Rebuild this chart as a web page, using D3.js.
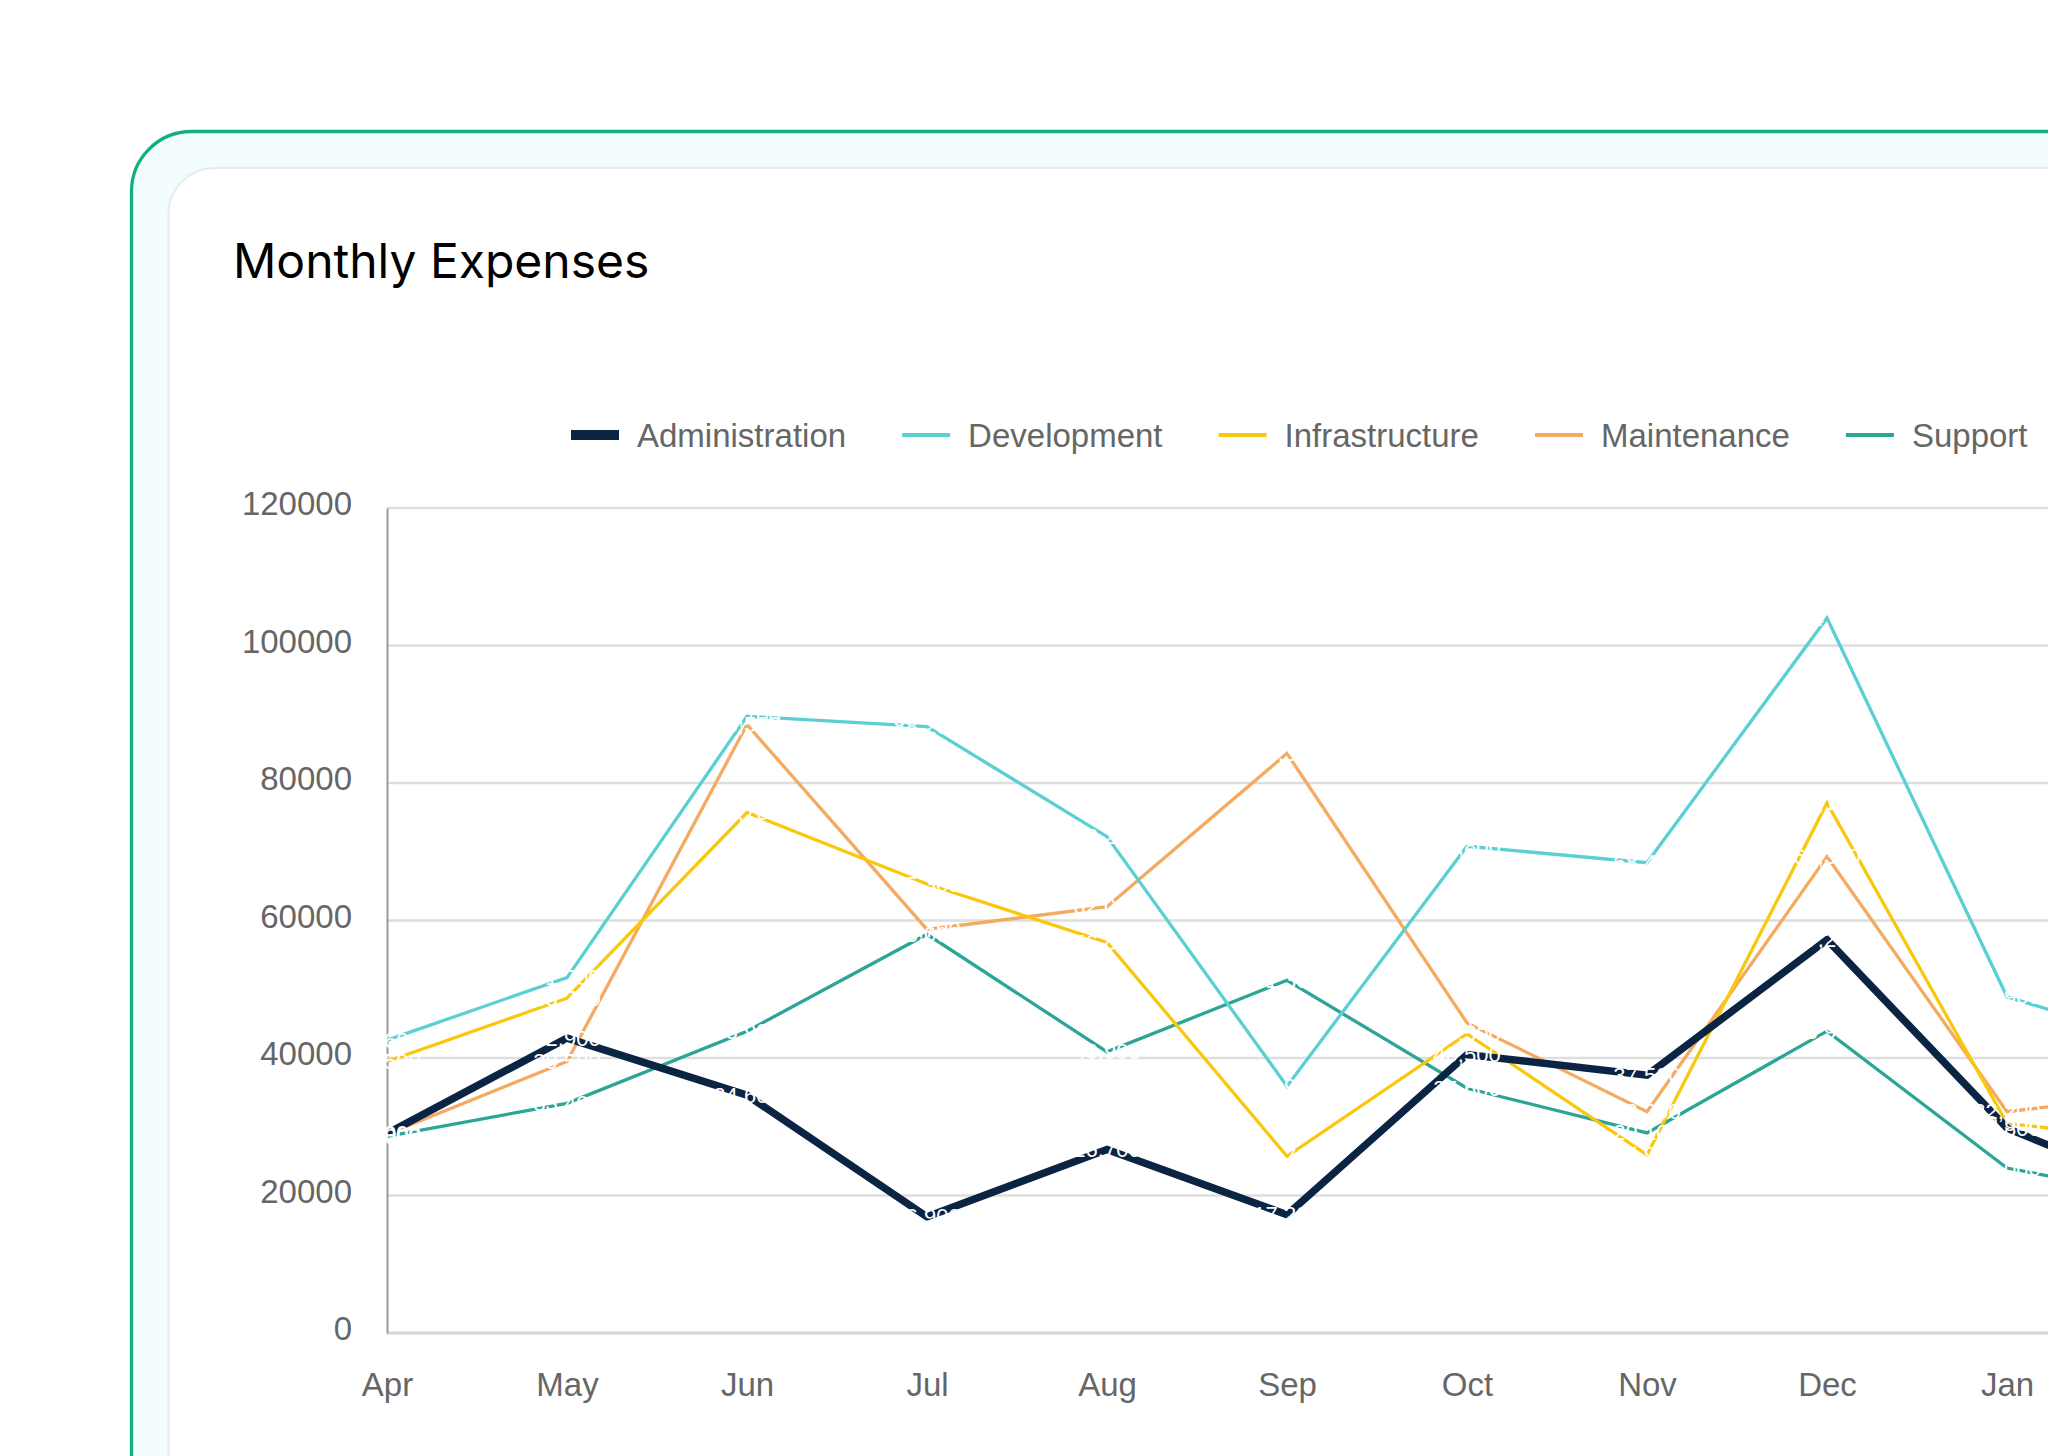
<!DOCTYPE html>
<html>
<head>
<meta charset="utf-8">
<script src="https://cdn.jsdelivr.net/npm/d3@7/dist/d3.min.js"></script>
<style>
  html, body { margin: 0; padding: 0; background: #ffffff; overflow: hidden; }
  svg { display: block; }
</style>
</head>
<body>
<svg id="chart" width="2048" height="1456"></svg>
<script>
// ---- data ----
const months = ["Apr", "May", "Jun", "Jul", "Aug", "Sep", "Oct", "Nov", "Dec", "Jan", "Feb", "Mar"];
const seriesNames = ["Administration", "Development", "Infrastructure", "Maintenance", "Support"];
const administration = [29000, 42900, 34600, 16900, 26700, 17200, 40500, 37500, 57200, 29800, 19000];
const development    = [42600, 51700, 89700, 88200, 72200, 35900, 70800, 68400, 104000, 48900, 41000];
const infrastructure = [39500, 48700, 75700, 65300, 56800, 25700, 43500, 25900, 77100, 30500, 27500];
const maintenance    = [28900, 39500, 88500, 58700, 62000, 84300, 45100, 32200, 69300, 32200, 35200];
const support        = [28600, 33400, 43900, 58000, 40900, 51300, 35600, 29100, 43900, 24000, 19000];
const yTicks = [0, 20000, 40000, 60000, 80000, 100000, 120000];
const title = "Monthly Expenses";

const seriesValues = [administration, development, infrastructure, maintenance, support];
const colors = ["#0b2444", "#5bd0d4", "#f9c80e", "#f4aa60", "#2aa596"];
const widths = [7.5, 3.3, 3.3, 3.3, 3.3];
const legendWidths = [10, 4, 4, 4, 4];

const svg = d3.select("#chart");

// ---- card frame ----
svg.append("rect")
  .attr("x", 131.5).attr("y", 131.5)
  .attr("width", 2600).attr("height", 1400)
  .attr("rx", 60).attr("ry", 60)
  .attr("fill", "#f4fdfd")
  .attr("stroke", "#12b07f").attr("stroke-width", 3.3);

svg.append("rect")
  .attr("x", 168.5).attr("y", 168)
  .attr("width", 2600).attr("height", 1400)
  .attr("rx", 46).attr("ry", 46)
  .attr("fill", "#ffffff")
  .attr("stroke", "#e2eded").attr("stroke-width", 2);

svg.append("text")
  .attr("x", 233).attr("y", 278)
  .attr("font-family", "Inter, 'Noto Sans', sans-serif")
  .attr("font-size", 48)
  .attr("fill", "#000")
  .text(title);

// ---- scales ----
const x = d3.scalePoint().domain(months).range([387, 2367]).padding(0);
const y = d3.scaleLinear().domain([0, 120000]).range([1333, 508]);

const font = "'Liberation Sans', Arial, Helvetica, sans-serif";

// gridlines
const grid = svg.append("g");
grid.selectAll("line").data(yTicks).join("line")
  .attr("x1", 387).attr("x2", 2367)
  .attr("y1", d => y(d)).attr("y2", d => y(d))
  .attr("stroke", d => d === 0 ? "#d6d6d6" : "#dedede")
  .attr("stroke-width", d => d === 0 ? 3 : 2.6);

// y axis
const yAxis = svg.append("g").attr("transform", "translate(387,0)")
  .call(d3.axisLeft(y).tickValues(yTicks).tickSize(0).tickPadding(35).tickFormat(d3.format("d")));
yAxis.select(".domain").attr("stroke", "#9a9a9a").attr("stroke-width", 2);
yAxis.selectAll("text")
  .attr("font-family", font).attr("font-size", 33).attr("fill", "#666")
  .attr("dy", "0.2em");

// x axis
const xAxis = svg.append("g").attr("transform", "translate(0,1333)")
  .call(d3.axisBottom(x).tickSize(0).tickPadding(40));
xAxis.select(".domain").remove();
xAxis.selectAll("text")
  .attr("font-family", font).attr("font-size", 33).attr("fill", "#666");

// ---- lines ----
const line = d3.line()
  .defined(d => d.v != null)
  .x(d => x(d.m)).y(d => y(d.v));

const data = seriesNames.map((name, i) => ({
  name, color: colors[i], width: widths[i],
  points: months.map((m, j) => ({ m, v: seriesValues[i][j] }))
}));

const lineG = svg.append("g");
lineG.selectAll("path").data(data.slice().reverse()).join("path")
  .attr("d", d => line(d.points))
  .attr("fill", "none")
  .attr("stroke", d => d.color)
  .attr("stroke-width", d => d.width)
  .attr("stroke-linejoin", "miter");

// data labels (white, centred on points)
const fmt = d3.format(",");
const labG = svg.append("g");
data.forEach(s => {
  labG.selectAll(null).data(s.points.filter(p => p.v != null)).join("text")
    .attr("x", p => x(p.m)).attr("y", p => y(p.v))
    .attr("text-anchor", "middle").attr("dominant-baseline", "central")
    .attr("font-family", font).attr("font-size", 22)
    .attr("fill", "#ffffff")
    .text(p => fmt(p.v));
});

// ---- legend ----
const legend = svg.append("g");
let lx = 571;
data.forEach((s, i) => {
  const g = legend.append("g");
  g.append("line")
    .attr("x1", lx).attr("x2", lx + 48)
    .attr("y1", 435).attr("y2", 435)
    .attr("stroke", s.color).attr("stroke-width", legendWidths[i]);
  const t = g.append("text")
    .attr("x", lx + 66).attr("y", 435)
    .attr("dominant-baseline", "central")
    .attr("font-family", font).attr("font-size", 33).attr("fill", "#666")
    .text(s.name);
  const w = t.node().getComputedTextLength();
  lx = lx + 66 + w + 56;
});
</script>
</body>
</html>
